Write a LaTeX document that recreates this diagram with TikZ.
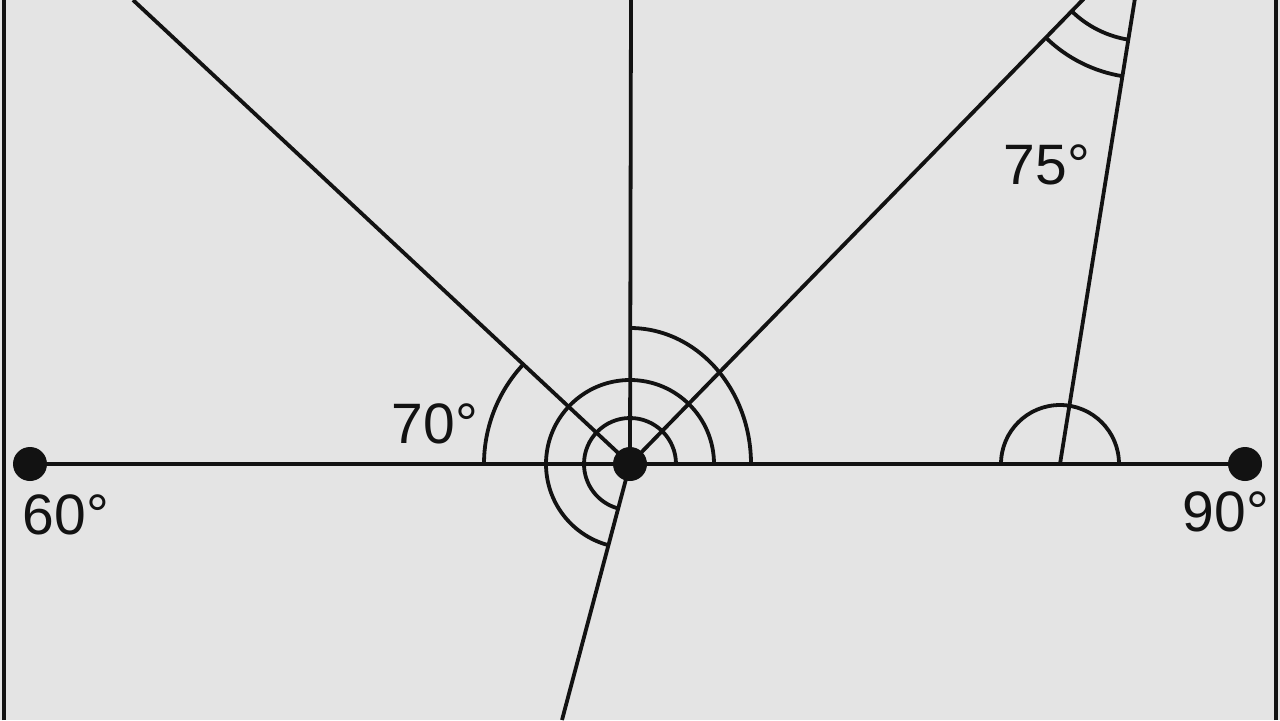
\documentclass[tikz,border=0pt]{standalone}
\usepackage{fontspec}
\setmainfont{Liberation Sans}
\usetikzlibrary{calc}
\definecolor{bg}{RGB}{228,228,228}
\definecolor{ink}{RGB}{18,18,18}
\tikzset{
  ln/.style={draw=ink,line width=1.9pt},
  dot/.style={circle,fill=ink,inner sep=0pt,minimum size=17pt},
  lbl/.style={text=ink,font=\fontsize{28.5}{34}\selectfont,inner sep=0pt}
}
\begin{document}
\begin{tikzpicture}[x=0.5pt,y=0.5pt]
\useasboundingbox (0,0) rectangle (1280,720);
\fill[bg] (0,0) rectangle (1280,720);
\clip (0,0) rectangle (1280,720);
% coordinates
\coordinate (C) at (630,256);
\coordinate (L) at (30,256);
\coordinate (R) at (1245,256);
\coordinate (UL) at (133,720);
\coordinate (UP) at (631,720);
\coordinate (UR) at (1083,720);
\coordinate (D) at (562,0);
\coordinate (Q) at (1060,256);
\coordinate (P2) at (1135,720);
\coordinate (V2) at (1145,784);
\coordinate (BLt) at (4,720);
\coordinate (BLb) at (4,0);
\coordinate (BRt) at (1276,720);
\coordinate (BRb) at (1276,0);
% frame sides
\draw[ln] (BLb) -- (BLt);
\draw[ln] (BRb) -- (BRt);
% rays
\draw[ln] (L) -- (R);
\draw[ln] (C) -- (UL);
\draw[ln] (C) -- (UP);
\draw[ln] (C) -- (V2);
\draw[ln] (C) -- (D);
\draw[ln] (Q) -- (V2);
% arcs at centre
\draw[ln] ($(C)+(46,0)$) arc[start angle=0,end angle=255,radius=46];
\draw[ln] ($(C)+(84,0)$) arc[start angle=0,end angle=255,radius=84];
\draw[ln] ($(C)+(121,0)$) arc[start angle=0,end angle=90,x radius=121,y radius=136];
\draw[ln] ($(C)+(137:146)$) arc[start angle=137,end angle=180,radius=146];
% arc at Q
\draw[ln] ($(Q)+(59,0)$) arc[start angle=0,end angle=180,radius=59];
% arcs at top vertex
\draw[ln] ($(V2)+(225.7:105)$) arc[start angle=225.7,end angle=260.85,radius=105];
\draw[ln] ($(V2)+(225.7:142)$) arc[start angle=225.7,end angle=260.85,radius=142];
% dots
\node[dot] (dC) at (C) {};
\node[dot] (dL) at (L) {};
\node[dot] (dR) at (R) {};
% labels
\node[lbl] (t70) at (435,296) {70°};
\node[lbl] (t75) at (1047,555) {75°};
\node[lbl] (t60) at (66,205) {60°};
\node[lbl] (t90) at (1226,208) {90°};
\end{tikzpicture}
\end{document}
